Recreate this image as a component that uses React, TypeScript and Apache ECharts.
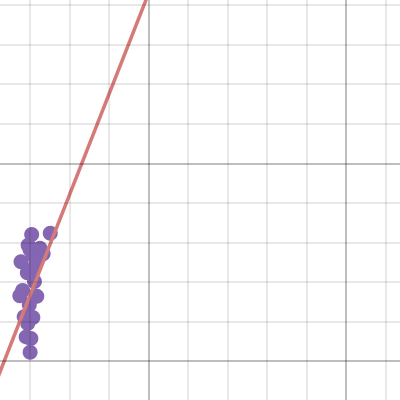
import React, { useEffect, useRef } from "react";
import * as echarts from "echarts";

// Scatter points (data units, 1 unit = one minor grid square)
const pointsX = [-2.96, -2.49, -3.0, -2.75, -2.67, -3.23, -2.92, -2.79, -3.05, -2.85, -3.07, -2.96, -2.89, -3.19, -3.26, -2.83, -3.02, -3.15, -2.93, -3.06, -3.1, -2.98, -3.0];
const pointsY = [3.2, 3.23, 2.81, 2.85, 2.71, 2.51, 2.68, 2.6, 2.93, 2.5, 2.23, 2.3, 2.01, 1.78, 1.65, 1.64, 1.42, 1.12, 1.1, 0.95, 0.61, 0.57, 0.22];

// Regression line endpoints
const fitX = [-4, 0.5];
const fitY = [-0.88, 10.57];

// Visible window
const xRange = [-3.762, 6.365];
const yRange = [-0.986, 9.128];

// Grid line positions
const minorX = [-3, -2, -1, 1, 2, 3, 4, 6];
const majorX = [0, 5];
const minorY = [1, 2, 3, 4, 6, 7, 8, 9];
const majorY = [0, 5];

export default function App() {
  const ref = useRef<HTMLDivElement>(null);
  useEffect(() => {
    if (!ref.current) return;
    const chart = echarts.init(ref.current, null, { renderer: "svg" });
    const hidden = {
      axisLine: { show: false },
      axisTick: { show: false },
      axisLabel: { show: false },
      splitLine: { show: false },
    };
    const pts = pointsX.map((x, i) => [x, pointsY[i]]);
    const fit = fitX.map((x, i) => [x, fitY[i]]);
    const gridSeries = (xs: number[], ys: number[], color: string, width: number) => ({
      type: "line",
      data: [],
      silent: true,
      z: 1,
      markLine: {
        silent: true,
        symbol: "none",
        label: { show: false },
        emphasis: { disabled: true },
        lineStyle: { color, width, type: "solid" },
        data: [...xs.map((v) => ({ xAxis: v })), ...ys.map((v) => ({ yAxis: v }))],
      },
    });
    chart.setOption({
      animation: false,
      backgroundColor: "#ffffff",
      grid: { left: 0, top: 0, right: 0, bottom: 0, containLabel: false },
      xAxis: { type: "value", min: xRange[0], max: xRange[1], ...hidden },
      yAxis: { type: "value", min: yRange[0], max: yRange[1], ...hidden },
      series: [
        gridSeries(minorX, minorY, "rgba(0,0,0,0.12)", 1.5),
        gridSeries(majorX, majorY, "rgba(0,0,0,0.34)", 1.5),
        {
          type: "scatter",
          data: pts,
          symbolSize: 15,
          itemStyle: { color: "#8466b3", opacity: 1 },
          z: 2,
        },
        {
          type: "line",
          data: fit,
          showSymbol: false,
          symbol: "none",
          lineStyle: { color: "#d47a78", width: 3.5 },
          z: 3,
        },
      ],
    });
    return () => chart.dispose();
  }, []);
  return (
    <div
      ref={ref}
      style={{ position: "fixed", left: 0, top: 0, width: 400, height: 400, background: "#fff" }}
    />
  );
}
